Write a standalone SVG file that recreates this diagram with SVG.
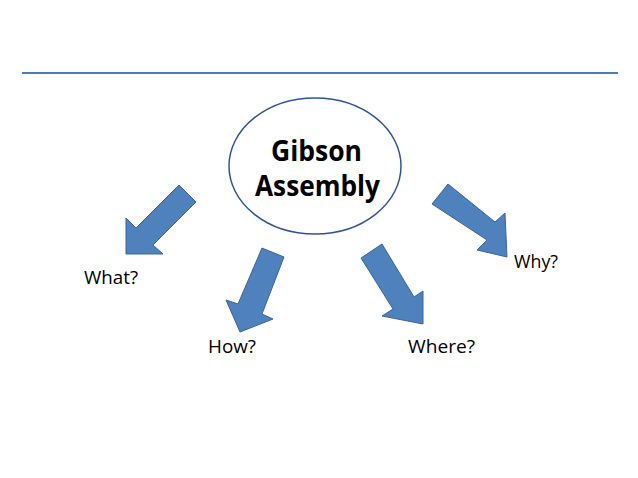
<svg xmlns="http://www.w3.org/2000/svg" width="638" height="478" viewBox="0 0 638 478">
<style>
.arr{fill:#4f81bd;stroke:#3a669a;stroke-width:1;stroke-linejoin:miter}
.lbl{font-family:"Open Sans","Liberation Sans",sans-serif;font-size:19px;fill:#000}
.ttl{font-family:"Open Sans","Liberation Sans",sans-serif;font-size:28px;font-weight:bold;fill:#000;text-anchor:middle}
</style>
<rect width="638" height="478" fill="#fff"/>
<line x1="22" y1="73" x2="618" y2="73" stroke="#4a7ebb" stroke-width="2"/>
<g id="center">
<ellipse cx="315" cy="166" rx="86" ry="68" fill="#fff" stroke="#2f5597" stroke-width="1.5"/>
<text class="ttl" x="316.5" y="161" textLength="91" lengthAdjust="spacingAndGlyphs">Gibson</text>
<text class="ttl" x="317.5" y="196" textLength="125" lengthAdjust="spacingAndGlyphs">Assembly</text>
</g>
<g id="connectors">
<polygon class="arr" points="179,185 196,202 153,245 163,254 126,254 126,218 136,228"/>
<polygon class="arr" points="262,248 284,257 262,314 273,319 240,332 226,300 238,304"/>
<polygon class="arr" points="361,258 382,244 414,297 423,291 423,324 382,316 393,309"/>
<polygon class="arr" points="432,204 448,184 495,222 505,213 507,257 477,250 487,240"/>
</g>
<g id="what"><text class="lbl" x="84" y="284" textLength="54" lengthAdjust="spacingAndGlyphs">What?</text></g>
<g id="how"><text class="lbl" x="208" y="353" textLength="48" lengthAdjust="spacingAndGlyphs">How?</text></g>
<g id="where"><text class="lbl" x="408" y="353" textLength="67" lengthAdjust="spacingAndGlyphs">Where?</text></g>
<g id="why"><text class="lbl" x="514" y="268" textLength="44" lengthAdjust="spacingAndGlyphs">Why?</text></g>
</svg>
